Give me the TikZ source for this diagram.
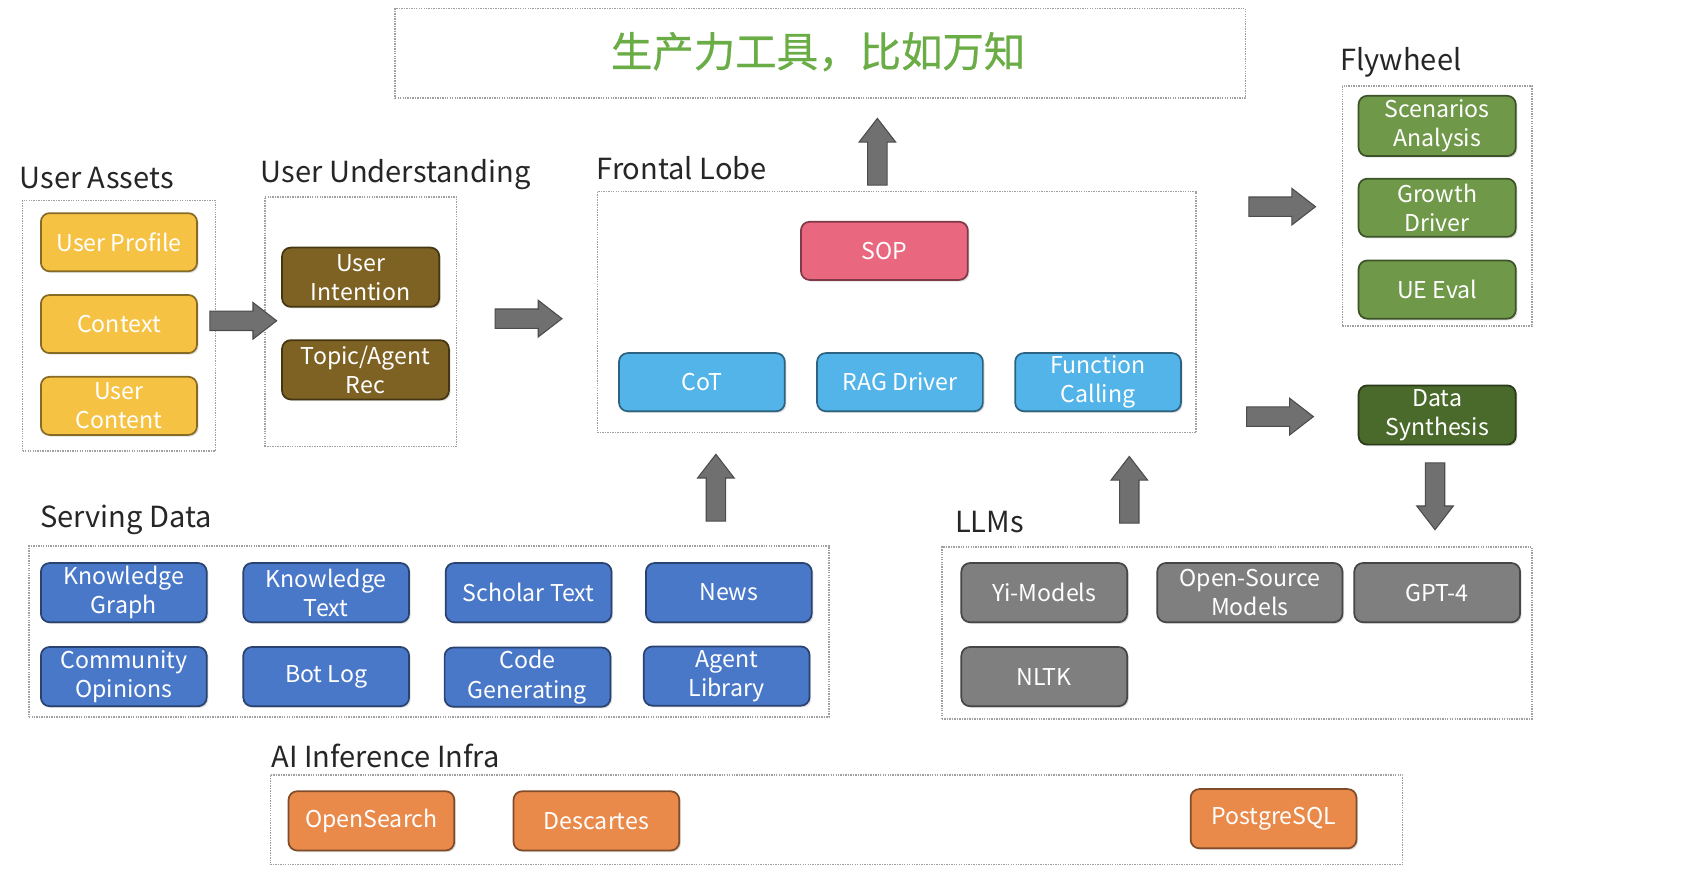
\documentclass[tikz,border=0pt]{standalone}
\usepackage{fontspec}
\setmainfont{Noto Sans CJK SC}
\newfontfamily\titlefont[FakeBold=0.6]{Noto Sans CJK SC}
\usetikzlibrary{shadows}
\definecolor{cyellow}{HTML}{F5C244}
\definecolor{cbrown}{HTML}{7E6223}
\definecolor{cpink}{HTML}{E9677F}
\definecolor{csky}{HTML}{52B4E9}
\definecolor{cgreen}{HTML}{6F9849}
\definecolor{cdgreen}{HTML}{4A6A2B}
\definecolor{cblue}{HTML}{4A78C9}
\definecolor{cgray}{HTML}{7F7F7F}
\definecolor{corange}{HTML}{E98A4B}
\definecolor{carrow}{HTML}{707070}
\definecolor{ctitle}{HTML}{6AAC45}
\definecolor{cframe}{HTML}{A0A0A0}
\definecolor{clabel}{HTML}{262626}
\tikzset{
  frame/.style={draw=cframe, densely dotted, line width=1.3pt, inner sep=0pt},
  grouplabel/.style={anchor=west, text=clabel, font=\fontsize{27}{30}\selectfont, inner sep=0pt},
  box/.style={draw=#1!55!black, fill=#1, rounded corners=8pt, line width=1.6pt,
     text=white, align=center, inner sep=0pt, font=\fontsize{21.5}{27}\selectfont,
     drop shadow={opacity=0.25, shadow xshift=1.5pt, shadow yshift=-1.5pt}},
  barrow/.pic={\draw[draw=black!70, fill=carrow, line width=1pt]
     (0,-9) -- (40,-9) -- (40,-17) -- (62,0) -- (40,17) -- (40,9) -- (0,9) -- cycle;}
}
\begin{document}
\begin{tikzpicture}[x=1pt,y=-1pt]
\useasboundingbox[fill=white] (0,0) rectangle (1568,819);

% Title
\node[frame, minimum width=790, minimum height=83] (title) at (762,49.5) {};
\node[text=ctitle, font=\titlefont\fontsize{38.5}{42}\selectfont] (titletext) at (760,48) {生产力工具，比如万知};

% User Assets
\node[grouplabel] (lua) at (18,165) {User Assets};
\node[frame, minimum width=179, minimum height=233] (ua) at (110.5,302.5) {};
\node[box=cyellow, minimum width=145, minimum height=54] (up) at (110.5,225) {User Profile};
\node[box=cyellow, minimum width=145, minimum height=54] (ctx) at (110.5,301) {Context};
\node[box=cyellow, minimum width=145, minimum height=54] (uc) at (110.5,377) {User\\Content};

% User Understanding
\node[grouplabel] (luu) at (242,162) {User Understanding};
\node[frame, minimum width=178, minimum height=232] (uu) at (335,299) {};
\node[box=cbrown, minimum width=146, minimum height=55] (ui) at (335,257.5) {User\\Intention};
\node[box=cbrown, minimum width=155, minimum height=55] (tar) at (339.5,343.5) {Topic/Agent\\Rec};

% Frontal Lobe
\node[grouplabel] (lfl) at (554,156) {Frontal Lobe};
\node[frame, minimum width=556, minimum height=224] (fl) at (833,290) {};
\node[box=cpink, minimum width=155, minimum height=54] (sop) at (821.5,233) {SOP};
\node[box=csky, minimum width=154, minimum height=54] (cot) at (652,355) {CoT};
\node[box=csky, minimum width=154, minimum height=54] (rag) at (836,355) {RAG Driver};
\node[box=csky, minimum width=154, minimum height=54] (fc) at (1020,355) {Function\\Calling};

% Flywheel
\node[grouplabel] (lfw) at (1245,58) {Flywheel};
\node[frame, minimum width=176, minimum height=223] (fw) at (1335,191.5) {};
\node[box=cgreen, minimum width=146, minimum height=56] (sa) at (1335,117) {Scenarios\\Analysis};
\node[box=cgreen, minimum width=146, minimum height=54] (gd) at (1335,193) {Growth\\Driver};
\node[box=cgreen, minimum width=146, minimum height=54] (ue) at (1335,269) {UE Eval};
\node[box=cdgreen, minimum width=146, minimum height=55] (ds) at (1335,385.5) {Data\\Synthesis};

% Serving Data
\node[grouplabel] (lsd) at (37,483) {Serving Data};
\node[frame, minimum width=743, minimum height=159] (sd) at (398.5,586.5) {};
\node[box=cblue, minimum width=154, minimum height=55] (kg) at (115,550.5) {Knowledge\\Graph};
\node[box=cblue, minimum width=154, minimum height=55] (kt) at (303,550.5) {Knowledge\\Text};
\node[box=cblue, minimum width=154, minimum height=55] (st) at (491,550.5) {Scholar Text};
\node[box=cblue, minimum width=154, minimum height=55] (news) at (677,550.5) {News};
\node[box=cblue, minimum width=154, minimum height=55] (co) at (115,628.5) {Community\\Opinions};
\node[box=cblue, minimum width=154, minimum height=55] (bl) at (303,628.5) {Bot Log};
\node[box=cblue, minimum width=154, minimum height=55] (cg) at (490,629) {Code\\Generating};
\node[box=cblue, minimum width=154, minimum height=55] (al) at (675,628) {Agent\\Library};

% LLMs
\node[grouplabel] (lllm) at (887,485) {LLMs};
\node[frame, minimum width=548, minimum height=160] (llm) at (1149,588) {};
\node[box=cgray, minimum width=154, minimum height=55] (yi) at (970,550.5) {Yi-Models};
\node[box=cgray, minimum width=172, minimum height=55] (osm) at (1161,550.5) {Open-Source\\Models};
\node[box=cgray, minimum width=154, minimum height=55] (gpt) at (1335,550.5) {GPT-4};
\node[box=cgray, minimum width=154, minimum height=55] (nltk) at (970,628.5) {NLTK};

% AI Inference Infra
\node[grouplabel] (lai) at (252,702) {AI Inference Infra};
\node[frame, minimum width=1052, minimum height=83] (ai) at (777,761.5) {};
\node[box=corange, minimum width=154, minimum height=55] (os) at (345,762.5) {OpenSearch};
\node[box=corange, minimum width=154, minimum height=55] (dc) at (554,762.5) {Descartes};
\node[box=corange, minimum width=154, minimum height=55] (pg) at (1183,760.5) {PostgreSQL};

% Block arrows
\pic at (195,298) {barrow};
\pic at (460,296) {barrow};
\pic[rotate=90] at (815,172) {barrow};
\pic[rotate=90] at (665,484) {barrow};
\pic[rotate=90] at (1049,486) {barrow};
\pic at (1160,192) {barrow};
\pic at (1158,387) {barrow};
\pic[rotate=-90] at (1333,430) {barrow};
\end{tikzpicture}
\end{document}
